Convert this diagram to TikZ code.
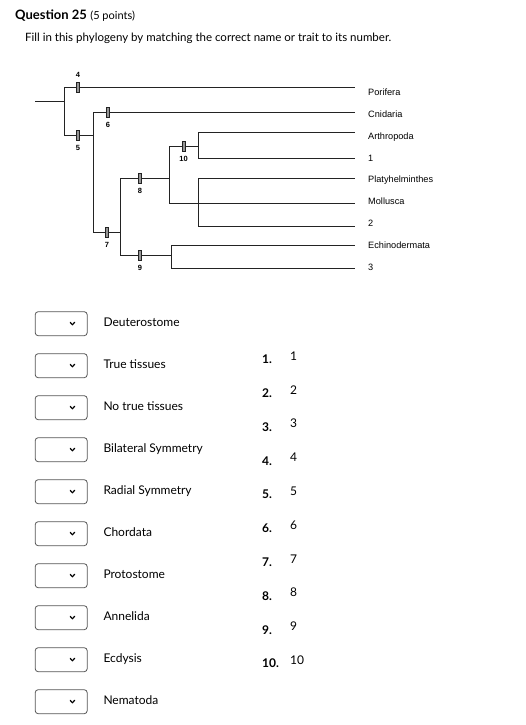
\documentclass[tikz,border=0pt]{standalone}
\usepackage{fontspec}
\setmainfont{Lato}
\newfontfamily\treefont{Liberation Sans}
\usepackage{tikz}
\usetikzlibrary{
  arrows.meta,
  positioning
}
\definecolor{branchgray}{RGB}{35,35,35}
\definecolor{markgray}{RGB}{150,150,150}
\definecolor{boxgray}{RGB}{85,85,85}

\begin{document}
\begin{tikzpicture}[x=1pt, y=-1pt,
  branch/.style={draw=branchgray, line width=0.9pt},
  traitmark/.style={draw=branchgray, fill=markgray, line width=0.5pt,
    minimum width=2.6pt, minimum height=10pt, inner sep=0pt},
  marklabel/.style={font=\treefont\bfseries\fontsize{7.5}{8}\selectfont, inner sep=0pt},
  taxon/.style={font=\treefont\fontsize{9.2}{11}\selectfont, anchor=base west, inner sep=0pt},
  dropbox/.style={draw=boxgray, rounded corners=3pt, line width=0.8pt,
    minimum width=52pt, minimum height=24pt, inner sep=0pt},
  chevron/.style={draw=black, line width=1.2pt, line cap=round, line join=round},
  answer/.style={font=\fontsize{12}{14}\selectfont, anchor=base west, inner sep=0pt},
  qnum/.style={font=\bfseries\fontsize{12}{14}\selectfont, anchor=base west, inner sep=0pt},
  qval/.style={font=\fontsize{12}{14}\selectfont, anchor=base west, inner sep=0pt}
]
  \useasboundingbox (0,0) rectangle (526,725);

  % Heading
  \node[anchor=base west, inner sep=0pt] (title) at (15,19.5)
    {\fontsize{13}{15}\selectfont\textbf{Question 25} {\fontsize{11}{13}\selectfont(5 points)}};
  \node[anchor=base west, inner sep=0pt] (prompt) at (25,41.3)
    {\fontsize{11.5}{14}\selectfont Fill in this phylogeny by matching the correct name or trait to its number.};

  % Branch points
  \coordinate (root) at (35,101);
  \coordinate (n1) at (64,101);
  \coordinate (n2) at (93,135);
  \coordinate (n3) at (120.5,232);
  \coordinate (n4) at (169.5,178);
  \coordinate (n5) at (198.5,146);
  \coordinate (n6) at (198.5,203.5);
  \coordinate (n7) at (171,255);

  % Tips (line ends)
  \coordinate (e0) at (355,87);
  \coordinate (e1) at (355,112.5);
  \coordinate (e2) at (355,132.5);
  \coordinate (e3) at (355,158);
  \coordinate (e4) at (355,178.3);
  \coordinate (e5) at (355,203.5);
  \coordinate (e6) at (355,226);
  \coordinate (e7) at (355,245);
  \coordinate (e8) at (355,268);

  % Branches
  \draw[branch] (root) -- (n1);
  \draw[branch] (n1) |- (e0);
  \draw[branch] (n1) |- (n2);
  \draw[branch] (n2) |- (e1);
  \draw[branch] (n2) |- (n3);
  \draw[branch] (n3) |- (n4);
  \draw[branch] (n3) |- (n7);
  \draw[branch] (n4) |- (n5);
  \draw[branch] (n4) |- (n6);
  \draw[branch] (n5) |- (e2);
  \draw[branch] (n5) |- (e3);
  \draw[branch] (n6) |- (e4);
  \draw[branch] (n6) -- (e5);
  \draw[branch] (n6) |- (e6);
  \draw[branch] (n7) |- (e7);
  \draw[branch] (n7) |- (e8);

  % Trait marks and their numbers
  \foreach \k/\x/\y/\side in {4/78/87/above, 5/78/135/below, 6/108/112.5/below,
      7/107/232/below, 8/140/178/below, 9/140/255/below, 10/183.5/146/below} {
    \node[traitmark] (m\k) at (\x,\y) {};
    \node[marklabel, \side=4.5pt of m\k] (ml\k) {\k};
  }

  % Tip names
  \foreach \t [count=\i from 0] in {Porifera, Cnidaria, Arthropoda, 1, Platyhelminthes,
      Mollusca, 2, Echinodermata, 3} {
    \node[taxon] (t\i) at (368, 95.6+21.8*\i) {\t};
  }

  % Drop-down answers
  \foreach \lbl [count=\i from 0] in {Deuterostome, True tissues, No true tissues,
      Bilateral Symmetry, Radial Symmetry, Chordata, Protostome, Annelida, Ecdysis, Nematoda} {
    \node[dropbox] (d\i) at (61.2,323.7+42*\i) {};
    \draw[chevron] (d\i.center) ++(9,-1.3) -- ++(2.2,2.4) -- ++(2.2,-2.4);
    \node[answer] (a\i) at (103.3,326+42*\i) {\lbl};
  }

  % Numbered list
  \foreach \k [count=\i from 0] in {1,...,10} {
    \node[qnum] (q\k) at (262,363.6+33.8*\i) {\k.};
    \node[qval] (v\k) at (290,360.3+33.8*\i) {\k};
  }
\end{tikzpicture}
\end{document}
